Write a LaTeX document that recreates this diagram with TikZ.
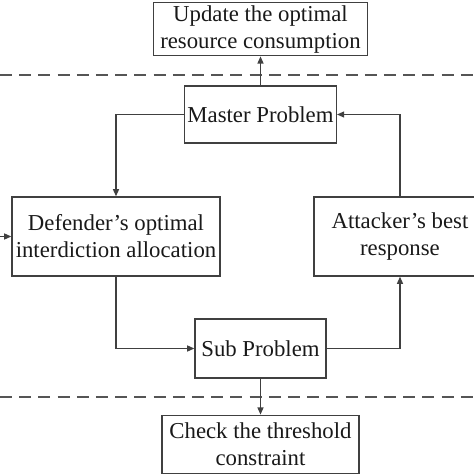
\documentclass[tikz,border=0pt]{standalone}
\usepackage{fontspec}
\setmainfont{Liberation Serif}
\usepackage{tikz}
\usetikzlibrary{arrows.meta,positioning}
\definecolor{flowline}{HTML}{404040}
\definecolor{flowdash}{HTML}{555555}

\begin{document}
\begin{tikzpicture}[
  blk/.style={draw=flowline,line width=0.9pt,align=center,inner sep=2pt,font=\fontsize{16.2}{19.2}\selectfont,text=black!90},
  link/.style={draw=flowline,line width=0.9pt,-{Triangle[length=1.8mm,width=1.5mm]}},
  sep/.style={draw=flowdash,line width=0.9pt,dash pattern=on 3mm off 1.8mm}]
  \useasboundingbox (0,0) rectangle (11.85,11.85);
  \node[blk,minimum width=3.775cm,minimum height=1.425cm] (master) at (6.5125,8.9875) {Master Problem};
  \node[blk,minimum width=5.35cm,minimum height=1.325cm,above=0.725cm of master] (upd) {Update the optimal\\resource consumption};
  \node[blk,minimum width=5.2cm,minimum height=1.975cm] (def) at (2.9,5.9375) {Defender’s optimal\\interdiction allocation};
  \node[blk,minimum width=4.3cm,minimum height=1.975cm] (att) at (10.0,5.9375) {Attacker’s best\\response};
  \node[blk,minimum width=3.275cm,minimum height=1.475cm] (sub) at (6.5125,3.1375) {Sub Problem};
  \node[blk,minimum width=4.925cm,minimum height=1.45cm,below=0.9cm of sub] (chk) {Check the threshold\\constraint};
  % dashed separators
  \coordinate (topl) at (0,9.975); \coordinate (topr) at (11.85,9.975);
  \coordinate (botl) at (0,1.925); \coordinate (botr) at (11.85,1.925);
  \draw[sep] (topl)--(topr); \draw[sep] (botl)--(botr);
  % loop
  \draw[link] (master.north)--(upd.south);
  \draw[link] (master.west) -| (def.north);
  \draw[link] (def.south) |- (sub.west);
  \draw[link] (sub.east) -| (att.south);
  \draw[link] (att.north) |- (master.east);
  \draw[link] (sub.south)--(chk.north);
  \coordinate (feed) at (-0.3,5.9375);
  \draw[link] (feed)--(def.west);
\end{tikzpicture}
\end{document}
